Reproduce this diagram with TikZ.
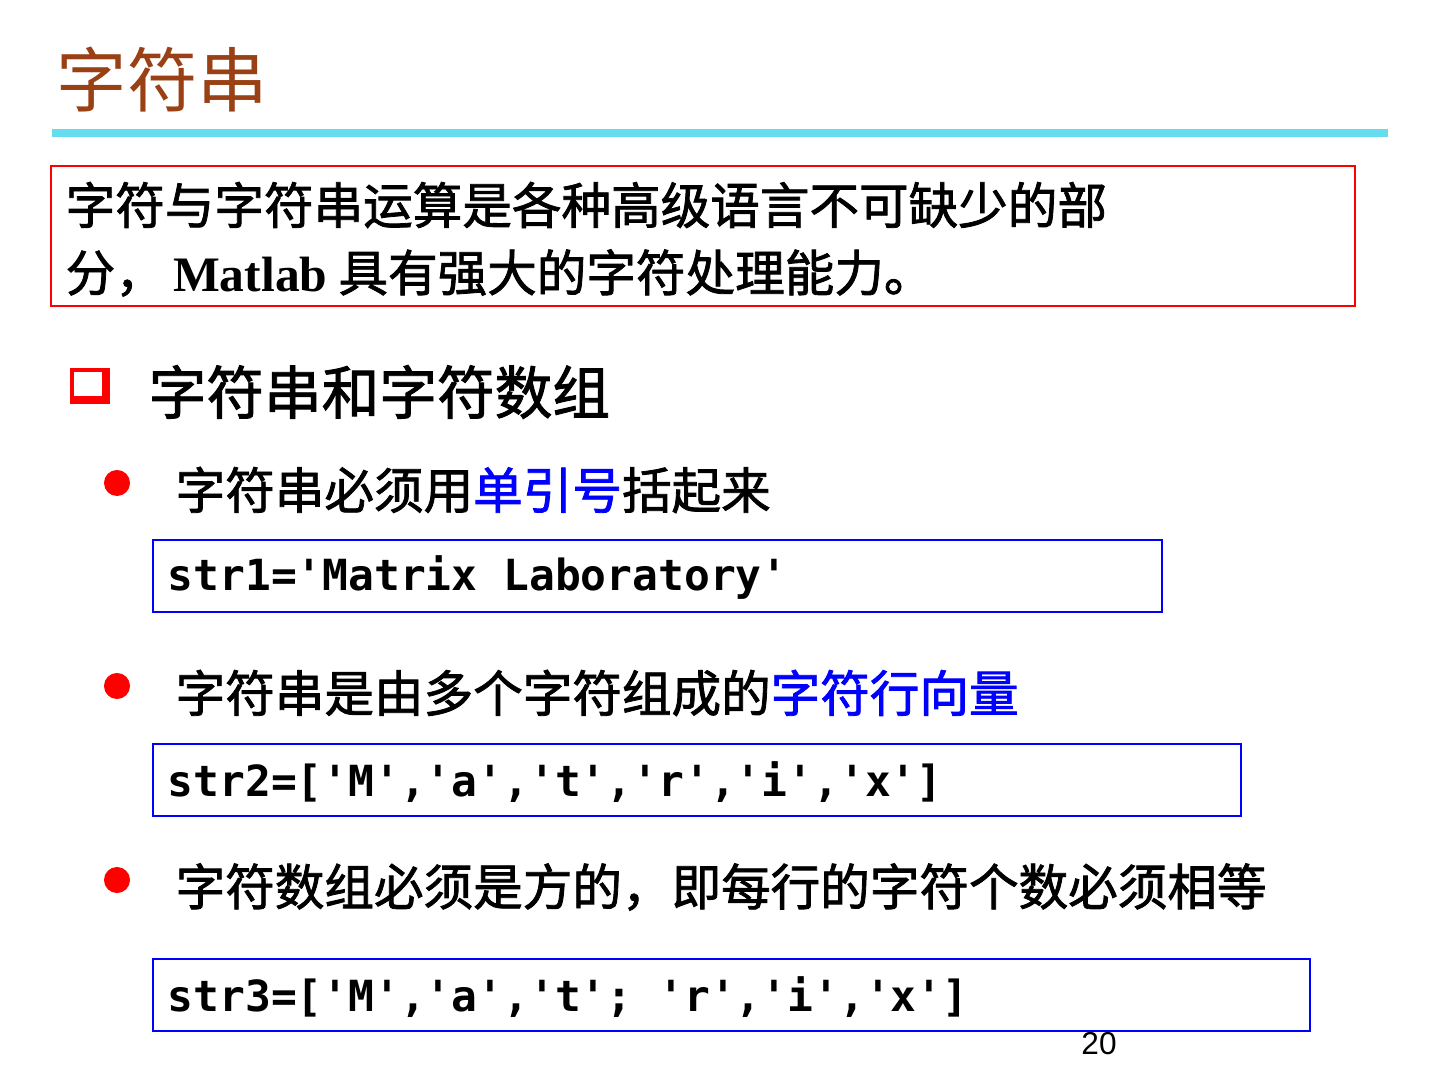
\documentclass[tikz,border=0pt]{standalone}
\usepackage{fontspec}
\setmainfont{Liberation Serif}
\setsansfont{Liberation Sans}
\setmonofont{DejaVu Sans Mono}
\newfontfamily\cjk{Noto Sans CJK SC}
\newfontfamily\cjkmed{Noto Sans CJK SC}[FakeBold=1.6]
\usepackage{xcolor}
\definecolor{titlebrown}{RGB}{153,64,20}
\definecolor{rulecyan}{RGB}{102,221,238}
\begin{document}
\begin{tikzpicture}[x=0.01cm,y=-0.01cm,
    txt/.style={anchor=west, inner sep=0pt, font=\cjkmed\fontsize{14.1pt}{17pt}\selectfont},
    codebox/.style={draw=blue, line width=0.8pt},
    code/.style={anchor=west, inner sep=0pt, font=\ttfamily\fontsize{12.2pt}{14pt}\selectfont},
    dot/.style={circle, fill=red, inner sep=0pt, minimum size=0.26cm}
]
    \useasboundingbox (0,0) rectangle (1440,1080);
    % Title
    \node[anchor=west, inner sep=0pt, text=titlebrown, font=\cjk\fontsize{20pt}{24pt}\selectfont] (title) at (56,80) {字符串};
    \draw[rulecyan, line width=2.5pt] (52,133) -- (1388,133);

    % Intro box
    \draw[red, line width=0.8pt] (51,166) rectangle (1355,306);
    \node[txt] (intro1) at (65,205) {字符与字符串运算是各种高级语言不可缺少的部};
    \node[txt] (intro2) at (65,273) {分，\,{\rmfamily\bfseries Matlab} 具有强大的字符处理能力。};

    % Heading
    \fill[red] (70,368) rectangle (110,404);
    \fill[white] (74,372) rectangle (102,396);
    \node[txt, font=\cjkmed\fontsize{16.4pt}{20pt}\selectfont] (head) at (148,392) {字符串和字符数组};

    % Bullets
    \node[dot] (b1) at (117,483) {};
    \node[txt] (t1) at (175,490) {字符串必须用{\color{blue}单引号}括起来};
    \draw[codebox] (153,540) rectangle (1162,612);
    \node[code] (c1) at (167,578) {\textbf{str1='Matrix Laboratory'}};

    \node[dot] (b2) at (117,686) {};
    \node[txt] (t2) at (175,693) {字符串是由多个字符组成的{\color{blue}字符行向量}};
    \draw[codebox] (153,744) rectangle (1241,816);
    \node[code] (c2) at (167,782) {\textbf{str2=['M','a','t','r','i','x']}};

    \node[dot] (b3) at (117,880) {};
    \node[txt] (t3) at (175,887) {字符数组必须是方的，即每行的字符个数必须相等};
    \draw[codebox] (153,959) rectangle (1310,1031);
    \node[code] (c3) at (167,997) {\textbf{str3=['M','a','t'; 'r','i','x']}};

    % Page number
    \node[inner sep=0pt, font=\sffamily\fontsize{9pt}{10pt}\selectfont] (page) at (1099,1044) {20};
\end{tikzpicture}
\end{document}
